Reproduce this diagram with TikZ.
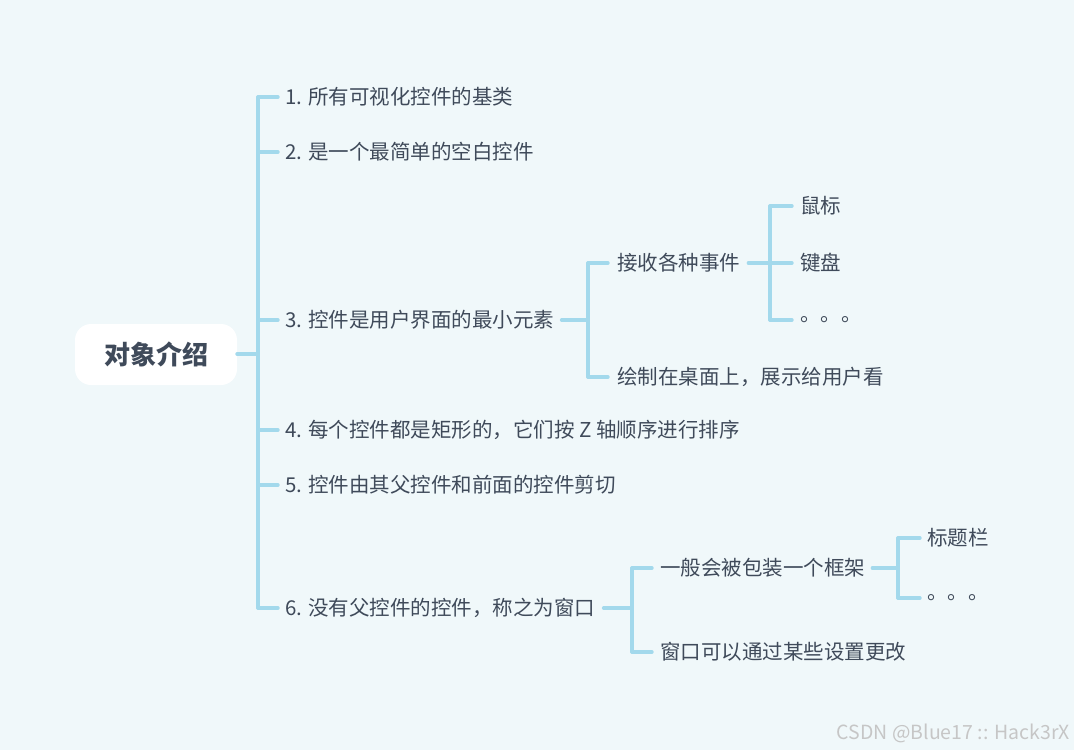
\documentclass[tikz,border=0pt]{standalone}
\usepackage{fontspec}
\setmainfont{Noto Sans CJK SC}
\definecolor{bg}{HTML}{F0F8FA}
\definecolor{ln}{HTML}{A3D9EC}
\definecolor{tx}{HTML}{3F4A5A}
\begin{document}
\begin{tikzpicture}[x=1pt,y=-1pt,
  lbl/.style={anchor=west,inner sep=0pt,text=tx,font=\fontsize{20.5}{22}\selectfont},
  br/.style={draw=ln,line width=3.4pt,line cap=round}]
\fill[bg] (0,0) rectangle (1074,750);
\useasboundingbox (0,0) rectangle (1074,750);
\fill[white,rounded corners=16pt] (75,324) rectangle (237,385);
\node[text=tx,font=\fontsize{26}{28}\selectfont\bfseries] (root) at (156,354) {对象介绍};
\coordinate (re) at (237,354);
\node[lbl] (a1) at (285,97) {1. 所有可视化控件的基类};
\node[lbl] (a2) at (285,152) {2. 是一个最简单的空白控件};
\node[lbl] (a3) at (285,320) {3. 控件是用户界面的最小元素};
\node[lbl] (a4) at (285,430) {4. 每个控件都是矩形的，它们按 Z 轴顺序进行排序};
\node[lbl] (a5) at (285,485) {5. 控件由其父控件和前面的控件剪切};
\node[lbl] (a6) at (285,608) {6. 没有父控件的控件，称之为窗口};
\draw[br] (re) -- (258,354);
\draw[br] (258,97) -- (258,608);
\foreach \n in {a1,a2,a3,a4,a5,a6} \draw[br] (258,0 |- \n.west) -- ([xshift=-7pt]\n.west);
\node[lbl] (b1) at (617,263) {接收各种事件};
\node[lbl] (b2) at (617,377) {绘制在桌面上，展示给用户看};
\draw[br] ([xshift=7pt]a3.east) -- (588,320);
\draw[br] (588,263) -- (588,377);
\foreach \n in {b1,b2} \draw[br] (588,0 |- \n.west) -- ([xshift=-9pt]\n.west);
\node[lbl] (c1) at (800,206) {鼠标};
\node[lbl] (c2) at (800,263) {键盘};
\node[lbl] (c3) at (800,320) {。。。};
\draw[br] ([xshift=8pt]b1.east) -- (770,263);
\draw[br] (770,206) -- (770,320);
\foreach \n in {c1,c2,c3} \draw[br] (770,0 |- \n.west) -- ([xshift=-8pt]\n.west);
\node[lbl] (d1) at (660,568) {一般会被包装一个框架};
\node[lbl] (d2) at (660,652) {窗口可以通过某些设置更改};
\draw[br] ([xshift=8pt]a6.east) -- (632,608);
\draw[br] (632,568) -- (632,652);
\foreach \n in {d1,d2} \draw[br] (632,0 |- \n.west) -- ([xshift=-8pt]\n.west);
\node[lbl] (e1) at (927,538) {标题栏};
\node[lbl] (e2) at (927,598) {。。。};
\draw[br] ([xshift=7pt]d1.east) -- (898,568);
\draw[br] (898,538) -- (898,598);
\foreach \n in {e1,e2} \draw[br] (898,0 |- \n.west) -- ([xshift=-7pt]\n.west);
\node[anchor=east,inner sep=0pt,text=gray!45,font=\fontsize{19.5}{21}\selectfont] (wm) at (1070,733) {CSDN @Blue17 :: Hack3rX};
\end{tikzpicture}
\end{document}
